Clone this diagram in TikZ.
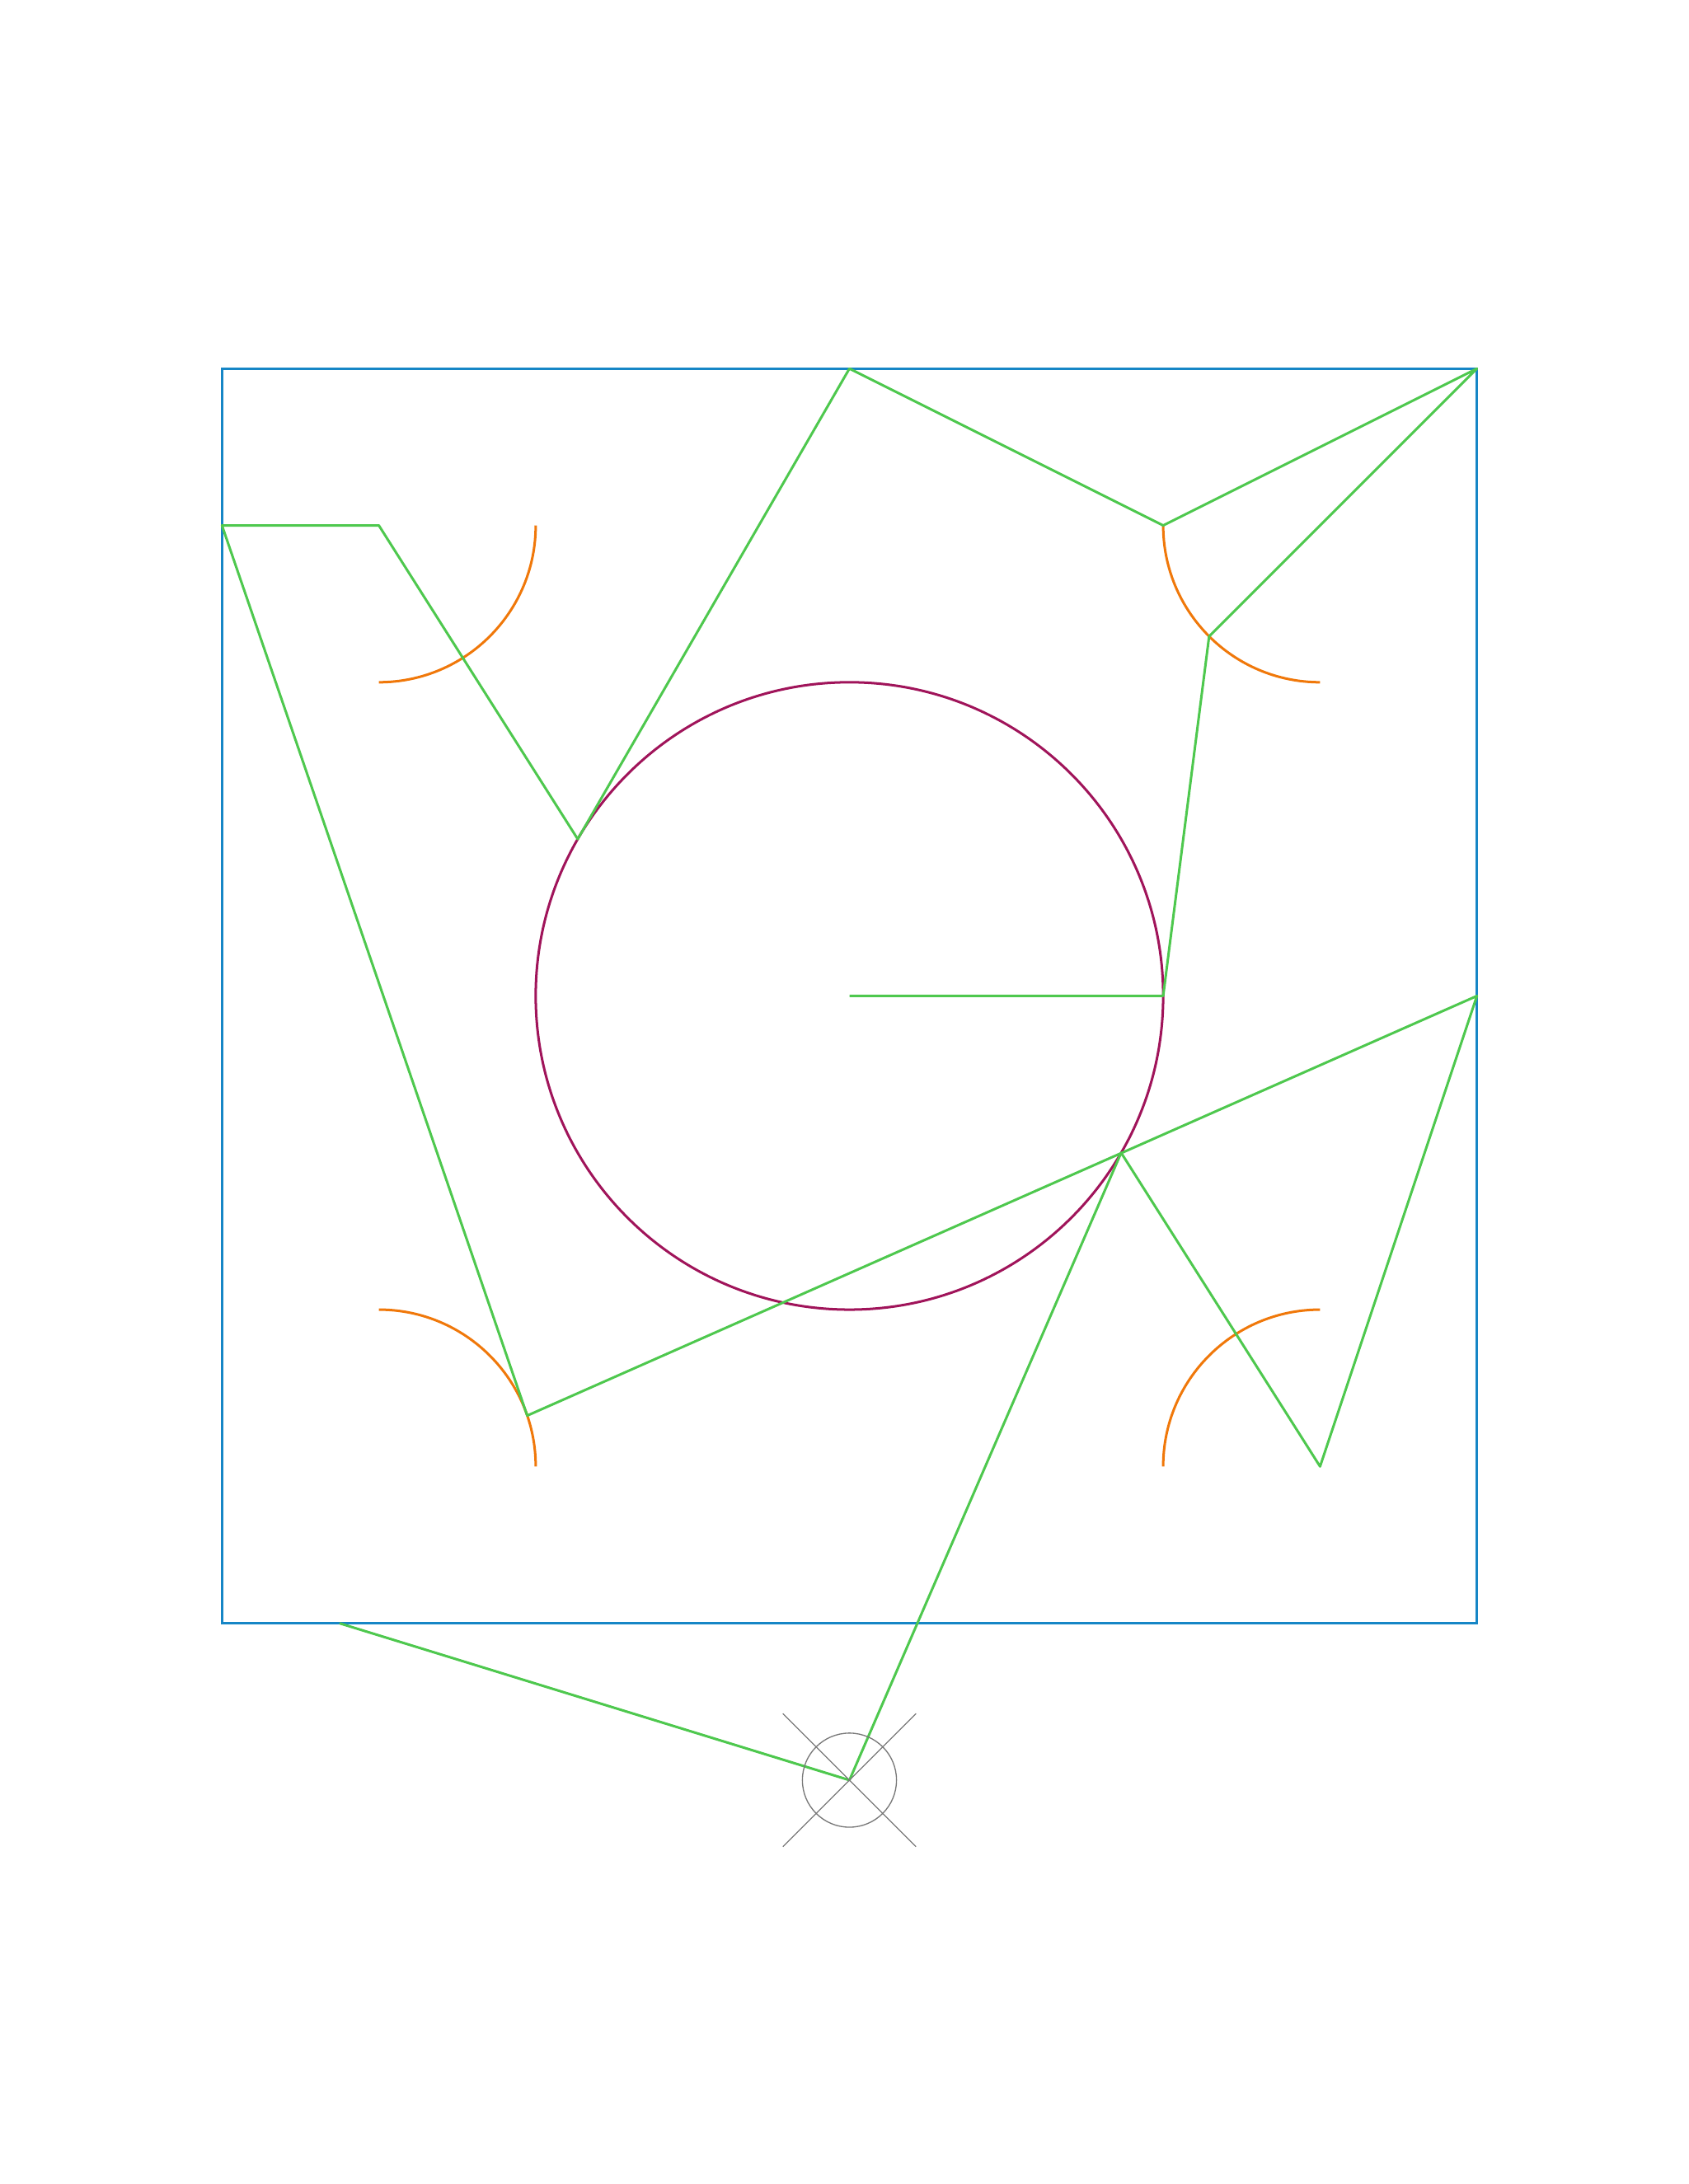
\documentclass[tikz,border=0pt]{standalone}
\usepackage{tikz}
\usetikzlibrary{calc}

\definecolor{sqblue}{RGB}{22,134,198}
\definecolor{lngreen}{RGB}{78,200,78}
\definecolor{arcorange}{RGB}{240,120,10}
\definecolor{circpurple}{RGB}{160,20,90}
\definecolor{markgray}{RGB}{120,120,120}

\tikzset{
  frame/.style={draw=sqblue, line width=0.9pt},
  chain/.style={draw=lngreen, line width=0.9pt, line join=round},
  quarter/.style={draw=arcorange, line width=0.9pt},
  ring/.style={draw=circpurple, line width=0.9pt},
  marker/.style={draw=markgray, line width=0.4pt}
}

\begin{document}
\begin{tikzpicture}[x=2cm, y=2cm]
  \useasboundingbox (-5.415,-7.575) rectangle (5.347,6.350);

  % square and circle
  \draw[frame] (-4,-4) rectangle (4,4);
  \draw[ring] (0,0) circle [radius=2];

  % quarter arcs at the corners
  \foreach \cx/\cy/\a/\b in {-3/3/0/-90, 3/3/180/270, -3/-3/90/0, 3/-3/90/180}{
    \draw[quarter] (\cx,\cy) ++(\a:1) arc [start angle=\a, end angle=\b, radius=1];
  }

  % points of the green chain
  \coordinate (edgeB) at (-3.25,-4);
  \coordinate (pole) at (0,-5);
  \coordinate (ringSE) at (-30:2);
  \coordinate (kneeSE) at (3,-3);
  \coordinate (midE) at (4,0);
  \coordinate (touchSW) at ($(-3,-3)+(18.92:1)$);
  \coordinate (leftW) at (-4,3);
  \coordinate (kneeNW) at (-3,3);
  \coordinate (ringNW) at (150:2);
  \coordinate (midN) at (0,4);
  \coordinate (kneeNE) at (2,3);
  \coordinate (cornerNE) at (4,4);
  \coordinate (arcNE) at ($(3,3)+(225:1)$);
  \coordinate (ringE) at (2,0);
  \coordinate (centre) at (0,0);

  \draw[chain] (edgeB) -- (pole) -- (ringSE) -- (kneeSE) -- (midE) -- (touchSW)
    -- (leftW) -- (kneeNW) -- (ringNW) -- (midN) -- (kneeNE) -- (cornerNE)
    -- (arcNE) -- (ringE) -- (centre);

  % marker under the square
  \begin{scope}[shift={(pole)}]
    \draw[marker] (0,0) circle [radius=0.3];
    \foreach \theta in {45,135}{
      \draw[marker] (\theta:0.6) -- (\theta+180:0.6);
    }
  \end{scope}
\end{tikzpicture}
\end{document}
